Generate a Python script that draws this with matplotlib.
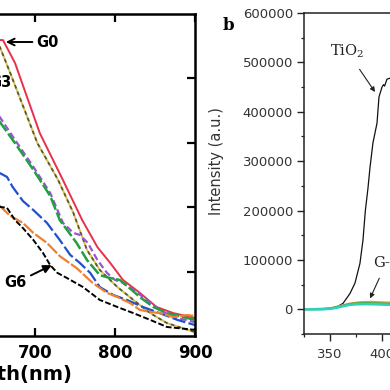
import matplotlib
matplotlib.use("Agg")
import matplotlib.pyplot as plt
from matplotlib.ticker import MultipleLocator

plt.rcParams['mathtext.fontset'] = 'dejavuserif'

# ---------------- Panel (a): absorbance vs wavelength ----------------
g0_x = [645, 656, 660, 675, 706, 735, 759, 778, 794, 810, 831, 852, 873, 900]
g0_y = [0.935, 0.919, 0.919, 0.848, 0.630, 0.484, 0.360, 0.276, 0.227, 0.174, 0.134, 0.090, 0.071, 0.056]

olive_x = [645, 656, 669, 703, 729, 748, 765, 781, 803, 823, 844, 865, 900]
olive_y = [0.915, 0.898, 0.817, 0.599, 0.484, 0.382, 0.267, 0.205, 0.152, 0.112, 0.071, 0.040, 0.012]

purple_x = [645, 656, 675, 698, 719, 735, 748, 756, 766, 778, 790, 800, 810, 823, 840, 856, 873, 900]
purple_y = [0.70, 0.680, 0.609, 0.525, 0.444, 0.351, 0.320, 0.314, 0.289, 0.236, 0.196, 0.174, 0.165, 0.143, 0.112, 0.081, 0.059, 0.043]

green_x = [645, 656, 675, 698, 719, 731, 752, 765, 781, 794, 806, 821, 831, 848, 865, 900]
green_y = [0.69, 0.665, 0.599, 0.516, 0.435, 0.360, 0.289, 0.236, 0.189, 0.180, 0.174, 0.143, 0.121, 0.090, 0.071, 0.050]

blue_x = [645, 656, 665, 672, 685, 698, 715, 731, 744, 756, 769, 781, 798, 815, 835, 856, 878, 900]
blue_y = [0.515, 0.506, 0.494, 0.463, 0.419, 0.391, 0.351, 0.298, 0.252, 0.227, 0.196, 0.152, 0.127, 0.112, 0.090, 0.071, 0.050, 0.034]

orange_x = [645, 656, 669, 685, 698, 715, 731, 752, 772, 790, 803, 819, 831, 844, 856, 873, 890, 900]
orange_y = [0.41, 0.404, 0.373, 0.351, 0.320, 0.289, 0.248, 0.211, 0.165, 0.134, 0.121, 0.102, 0.081, 0.075, 0.071, 0.059, 0.065, 0.062]

black_x = [645, 656, 665, 675, 685, 698, 710, 719, 728, 740, 760, 781, 803, 823, 844, 865, 900]
black_y = [0.41, 0.401, 0.398, 0.360, 0.335, 0.298, 0.258, 0.220, 0.196, 0.180, 0.152, 0.112, 0.090, 0.071, 0.050, 0.028, 0.019]

a_xticks = [500, 600, 700, 800, 900]
a_yticks = [0.2, 0.4, 0.6, 0.8]

# ---------------- Panel (b): PL intensity ----------------
tio2_x = [325, 340, 350, 356.7, 362.5, 369.2, 374, 378.8, 381.7, 384, 386.5, 388.5, 391.3, 395.2, 397.1,
          400, 401.5, 402.5, 404.8, 407.7, 420, 440, 470]
tio2_y = [0, 1000, 2000, 5000, 12000, 32000, 53000, 93000, 140000, 200000, 245000, 288000, 337000, 377000,
          430000, 450000, 455000, 452000, 466000, 468000, 450000, 380000, 250000]

gc_x = [325, 340, 350, 356, 362, 369, 375, 385, 395, 408, 430]
gc_cyan = [0, 0, 1000, 3000, 6000, 9000, 10000, 10500, 10000, 9000, 8000]
gg_x = [325, 345, 352, 360, 368, 375, 385, 395, 408, 430]
gg_green = [0, 500, 2500, 6000, 10000, 12000, 12500, 12000, 11000, 10000]
go_x = [325, 350, 360, 370, 380, 390, 400, 408, 430]
go_orange = [0, 1500, 7000, 12000, 14500, 15000, 14000, 13500, 12000]

b_xticks = [350, 400, 450, 500]
b_yticks = [0, 100000, 200000, 300000, 400000, 500000, 600000]

W = 390.0
fig = plt.figure(figsize=(3.9, 3.9), dpi=100)

# ----- axes a -----
axa = fig.add_axes([-205 / W, (390 - 336) / W, 400 / W, 322 / W])
axa.plot(g0_x, g0_y, color='#e8304a', lw=1.4)
axa.plot(olive_x, olive_y, color='#5a5a2a', lw=1.4, ls=(0, (2, 1.6)), gapcolor='#e0c040')
axa.plot(purple_x, purple_y, color='#a050d8', lw=1.6, ls=(0, (3, 1.5)))
axa.plot(green_x, green_y, color='#20a040', lw=1.8, ls=(0, (5, 1.2)))
axa.plot(blue_x, blue_y, color='#2050d0', lw=1.6, ls=(0, (6, 1.5)))
axa.plot(orange_x, orange_y, color='#f08030', lw=1.6, ls=(0, (6, 1)))
axa.plot(black_x, black_y, color='black', lw=1.4, ls=(0, (3, 1.2)))
axa.set_xlim(400, 900)
axa.set_ylim(0, 1.0)
axa.set_xticks(a_xticks)
axa.set_yticks(a_yticks)
for s in axa.spines.values():
    s.set_linewidth(1.8)
axa.tick_params(direction='in', top=True, right=True, length=6, width=1.6, pad=6)
for lab in axa.get_xticklabels():
    lab.set_fontweight('bold')
    lab.set_fontsize(12)
    lab.set_family('DejaVu Sans')
fig.text(72 / W, 1 - 374 / W, 'Wavelength(nm)', ha='right', va='center',
         fontsize=14, fontweight='bold', family='DejaVu Sans')

axa.annotate('G0', xy=(663.5, 0.913), xytext=(702, 0.913), ha='left', va='center',
             fontsize=10.5, fontweight='bold',
             arrowprops=dict(arrowstyle='->', lw=1.4, color='black', shrinkA=1, shrinkB=0,
                             mutation_scale=12))
axa.text(671, 0.786, 'G3', ha='right', va='center', fontsize=10.5, fontweight='bold')
axa.annotate('G6', xy=(721, 0.220), xytext=(662, 0.165), ha='left', va='center',
             fontsize=10.5, fontweight='bold',
             arrowprops=dict(arrowstyle='-|>', lw=1.4, color='black', shrinkA=1, shrinkB=0,
                             mutation_scale=12))

# ----- axes b -----
axb = fig.add_axes([304 / W, (390 - 334) / W, 494 / W, 321 / W])
axb.plot(tio2_x, tio2_y, color='#111111', lw=0.9)
axb.plot(go_x, go_orange, color='#d8a040', lw=1.6)
axb.plot(gg_x, gg_green, color='#40b050', lw=1.6)
axb.plot(gc_x, gc_cyan, color='#30d0c0', lw=1.8)
axb.set_xlim(325, 800)
axb.set_ylim(-50000, 600000)
axb.set_xticks(b_xticks)
axb.set_yticks(b_yticks)
axb.xaxis.set_minor_locator(MultipleLocator(25))
axb.yaxis.set_minor_locator(MultipleLocator(50000))
for s in axb.spines.values():
    s.set_linewidth(1.1)
    s.set_color('#222222')
axb.tick_params(which='major', direction='out', length=5, width=1.0, colors='#222222',
                labelsize=9.5, pad=3)
axb.tick_params(which='minor', direction='out', length=2.5, width=0.9, colors='#222222')
axb.tick_params(axis='x', which='major', pad=5)
for lab in axb.get_xticklabels() + axb.get_yticklabels():
    lab.set_color('#333333')
axb.set_ylabel('Intensity (a.u.)', fontsize=10.5, color='#333333')
axb.yaxis.set_label_coords(-0.162, 0.54)

axb.annotate('TiO$_2$', xy=(393.3, 440000), xytext=(350, 523000), ha='left', va='center',
             fontsize=10.5, family='DejaVu Serif', color='#222222',
             arrowprops=dict(arrowstyle='-|>', lw=0.8, color='#222222', shrinkA=6, shrinkB=0,
                             mutation_scale=7))
axb.annotate('G-0', xy=(388.5, 22000), xytext=(391.3, 93000), ha='left', va='center',
             fontsize=10.5, family='DejaVu Serif', color='#222222',
             arrowprops=dict(arrowstyle='-|>', lw=0.8, color='#222222', shrinkA=4, shrinkB=0,
                             mutation_scale=7))

fig.text(228 / W, 1 - 25 / W, 'b', ha='center', va='center', fontsize=12,
         fontweight='bold', family='DejaVu Serif')

fig.savefig('out.png', dpi=100)
